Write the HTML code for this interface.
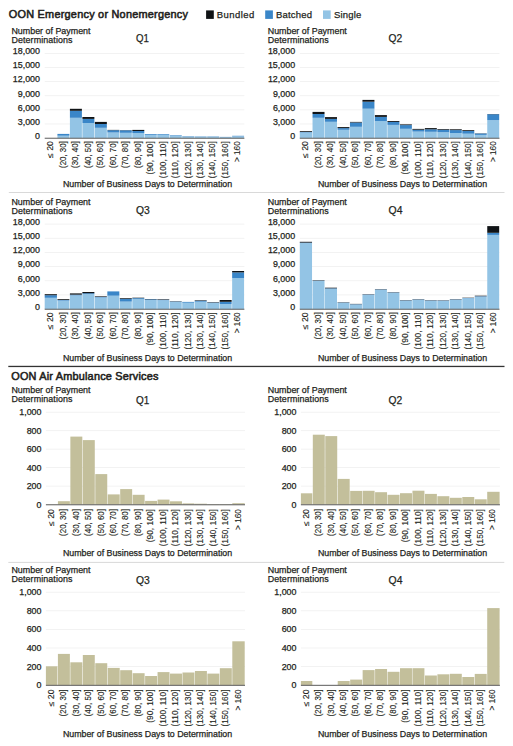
<!DOCTYPE html>
<html><head><meta charset="utf-8"><style>
html,body{margin:0;padding:0;background:#fff;}
body{width:513px;height:746px;overflow:hidden;}
svg{display:block;}
text{font-family:"Liberation Sans", sans-serif;stroke:#231f20;stroke-width:0.25px;}
</style></head><body>
<svg width="513" height="746" viewBox="0 0 513 746">
<rect x="0" y="0" width="513" height="746" fill="#fff"/>
<text x="8.8" y="18.3" font-size="10.9" text-anchor="start" font-weight="normal" fill="#231f20" textLength="179.2" lengthAdjust="spacing" style="stroke-width:0.55px">OON Emergency or Nonemergency</text>
<rect x="206.10" y="10.40" width="7.70" height="8.50" fill="#101316"/>
<text x="216.8" y="17.6" font-size="9.5" text-anchor="start" font-weight="normal" fill="#231f20" textLength="37.4" lengthAdjust="spacing">Bundled</text>
<rect x="265.20" y="10.40" width="7.70" height="8.50" fill="#3a86c8"/>
<text x="275.9" y="17.6" font-size="9.5" text-anchor="start" font-weight="normal" fill="#231f20" textLength="36.1" lengthAdjust="spacing">Batched</text>
<rect x="323.00" y="10.40" width="7.70" height="8.50" fill="#93c4e5"/>
<text x="334.1" y="17.6" font-size="9.5" text-anchor="start" font-weight="normal" fill="#231f20" textLength="27.2" lengthAdjust="spacing">Single</text>
<text x="11.4" y="33.6" font-size="8.9" text-anchor="start" font-weight="normal" fill="#231f20" textLength="79.1" lengthAdjust="spacing">Number of Payment</text>
<text x="11.4" y="42.8" font-size="8.9" text-anchor="start" font-weight="normal" fill="#231f20" textLength="61.1" lengthAdjust="spacing">Determinations</text>
<text x="135.9" y="41.6" font-size="11.0" text-anchor="start" font-weight="normal" fill="#231f20" textLength="12.9" lengthAdjust="spacingAndGlyphs">Q1</text>
<text x="40.0" y="138.89999999999998" font-size="8.9" text-anchor="end" font-weight="normal" fill="#231f20">0</text>
<rect x="44.70" y="123.58" width="199.68" height="0.8" fill="#efefef"/>
<text x="40.0" y="124.78333333333333" font-size="8.9" text-anchor="end" font-weight="normal" fill="#231f20">3,000</text>
<rect x="44.70" y="109.47" width="199.68" height="0.8" fill="#efefef"/>
<text x="40.0" y="110.66666666666666" font-size="8.9" text-anchor="end" font-weight="normal" fill="#231f20">6,000</text>
<rect x="44.70" y="95.35" width="199.68" height="0.8" fill="#efefef"/>
<text x="40.0" y="96.55" font-size="8.9" text-anchor="end" font-weight="normal" fill="#231f20">9,000</text>
<rect x="44.70" y="81.23" width="199.68" height="0.8" fill="#efefef"/>
<text x="40.0" y="82.43333333333332" font-size="8.9" text-anchor="end" font-weight="normal" fill="#231f20">12,000</text>
<rect x="44.70" y="67.12" width="199.68" height="0.8" fill="#efefef"/>
<text x="40.0" y="68.31666666666666" font-size="8.9" text-anchor="end" font-weight="normal" fill="#231f20">15,000</text>
<rect x="44.70" y="53.00" width="199.68" height="0.8" fill="#efefef"/>
<text x="40.0" y="54.2" font-size="8.9" text-anchor="end" font-weight="normal" fill="#231f20">18,000</text>
<rect x="57.43" y="135.70" width="11.98" height="2.50" fill="#93c4e5"/>
<rect x="57.43" y="133.90" width="11.98" height="1.80" fill="#3a86c8"/>
<rect x="69.91" y="117.80" width="11.98" height="20.40" fill="#93c4e5"/>
<rect x="69.91" y="110.80" width="11.98" height="7.00" fill="#3a86c8"/>
<rect x="69.91" y="108.80" width="11.98" height="2.00" fill="#101316"/>
<rect x="82.39" y="123.00" width="11.98" height="15.20" fill="#93c4e5"/>
<rect x="82.39" y="118.90" width="11.98" height="4.10" fill="#3a86c8"/>
<rect x="82.39" y="117.00" width="11.98" height="1.90" fill="#101316"/>
<rect x="94.87" y="127.80" width="11.98" height="10.40" fill="#93c4e5"/>
<rect x="94.87" y="124.00" width="11.98" height="3.80" fill="#3a86c8"/>
<rect x="94.87" y="121.90" width="11.98" height="2.10" fill="#101316"/>
<rect x="107.35" y="132.50" width="11.98" height="5.70" fill="#93c4e5"/>
<rect x="107.35" y="130.20" width="11.98" height="2.30" fill="#3a86c8"/>
<rect x="107.35" y="129.90" width="11.98" height="0.30" fill="#101316"/>
<rect x="119.83" y="132.80" width="11.98" height="5.40" fill="#93c4e5"/>
<rect x="119.83" y="130.30" width="11.98" height="2.50" fill="#3a86c8"/>
<rect x="119.83" y="130.10" width="11.98" height="0.20" fill="#101316"/>
<rect x="132.31" y="133.00" width="11.98" height="5.20" fill="#93c4e5"/>
<rect x="132.31" y="131.00" width="11.98" height="2.00" fill="#3a86c8"/>
<rect x="132.31" y="129.90" width="11.98" height="1.10" fill="#101316"/>
<rect x="144.79" y="134.90" width="11.98" height="3.30" fill="#93c4e5"/>
<rect x="144.79" y="134.10" width="11.98" height="0.80" fill="#3a86c8"/>
<rect x="157.27" y="134.80" width="11.98" height="3.40" fill="#93c4e5"/>
<rect x="157.27" y="134.10" width="11.98" height="0.70" fill="#3a86c8"/>
<rect x="169.75" y="135.60" width="11.98" height="2.60" fill="#93c4e5"/>
<rect x="169.75" y="135.10" width="11.98" height="0.50" fill="#3a86c8"/>
<rect x="182.23" y="136.40" width="11.98" height="1.80" fill="#93c4e5"/>
<rect x="182.23" y="136.10" width="11.98" height="0.30" fill="#3a86c8"/>
<rect x="194.71" y="136.70" width="11.98" height="1.50" fill="#93c4e5"/>
<rect x="194.71" y="136.40" width="11.98" height="0.30" fill="#3a86c8"/>
<rect x="207.19" y="136.70" width="11.98" height="1.50" fill="#93c4e5"/>
<rect x="207.19" y="136.40" width="11.98" height="0.30" fill="#3a86c8"/>
<rect x="219.67" y="137.20" width="11.98" height="1.00" fill="#93c4e5"/>
<rect x="219.67" y="136.90" width="11.98" height="0.30" fill="#3a86c8"/>
<rect x="232.15" y="136.30" width="11.93" height="1.90" fill="#93c4e5"/>
<rect x="232.15" y="135.80" width="11.93" height="0.50" fill="#3a86c8"/>
<rect x="44.70" y="137.70" width="199.68" height="1.1" fill="#6a6a6a"/>
<text transform="translate(53.24,141.20) rotate(-90)" font-size="8.3" text-anchor="end" fill="#231f20" style="stroke-width:0.12px" textLength="16.8" lengthAdjust="spacingAndGlyphs">≤ 20</text>
<text transform="translate(65.72,141.20) rotate(-90)" font-size="8.3" text-anchor="end" fill="#231f20" style="stroke-width:0.12px" textLength="26.8" lengthAdjust="spacingAndGlyphs">(20, 30]</text>
<text transform="translate(78.20,141.20) rotate(-90)" font-size="8.3" text-anchor="end" fill="#231f20" style="stroke-width:0.12px" textLength="26.8" lengthAdjust="spacingAndGlyphs">(30, 40]</text>
<text transform="translate(90.68,141.20) rotate(-90)" font-size="8.3" text-anchor="end" fill="#231f20" style="stroke-width:0.12px" textLength="26.8" lengthAdjust="spacingAndGlyphs">(40, 50]</text>
<text transform="translate(103.16,141.20) rotate(-90)" font-size="8.3" text-anchor="end" fill="#231f20" style="stroke-width:0.12px" textLength="26.8" lengthAdjust="spacingAndGlyphs">(50, 60]</text>
<text transform="translate(115.64,141.20) rotate(-90)" font-size="8.3" text-anchor="end" fill="#231f20" style="stroke-width:0.12px" textLength="26.8" lengthAdjust="spacingAndGlyphs">(60, 70]</text>
<text transform="translate(128.12,141.20) rotate(-90)" font-size="8.3" text-anchor="end" fill="#231f20" style="stroke-width:0.12px" textLength="26.8" lengthAdjust="spacingAndGlyphs">(70, 80]</text>
<text transform="translate(140.60,141.20) rotate(-90)" font-size="8.3" text-anchor="end" fill="#231f20" style="stroke-width:0.12px" textLength="26.8" lengthAdjust="spacingAndGlyphs">(80, 90]</text>
<text transform="translate(153.08,141.20) rotate(-90)" font-size="8.3" text-anchor="end" fill="#231f20" style="stroke-width:0.12px" textLength="33.2" lengthAdjust="spacingAndGlyphs">(90, 100]</text>
<text transform="translate(165.56,141.20) rotate(-90)" font-size="8.3" text-anchor="end" fill="#231f20" style="stroke-width:0.12px" textLength="37.1" lengthAdjust="spacingAndGlyphs">(100, 110]</text>
<text transform="translate(178.04,141.20) rotate(-90)" font-size="8.3" text-anchor="end" fill="#231f20" style="stroke-width:0.12px" textLength="37.1" lengthAdjust="spacingAndGlyphs">(110, 120]</text>
<text transform="translate(190.52,141.20) rotate(-90)" font-size="8.3" text-anchor="end" fill="#231f20" style="stroke-width:0.12px" textLength="37.1" lengthAdjust="spacingAndGlyphs">(120, 130]</text>
<text transform="translate(203.00,141.20) rotate(-90)" font-size="8.3" text-anchor="end" fill="#231f20" style="stroke-width:0.12px" textLength="37.1" lengthAdjust="spacingAndGlyphs">(130, 140]</text>
<text transform="translate(215.48,141.20) rotate(-90)" font-size="8.3" text-anchor="end" fill="#231f20" style="stroke-width:0.12px" textLength="37.1" lengthAdjust="spacingAndGlyphs">(140, 150]</text>
<text transform="translate(227.96,141.20) rotate(-90)" font-size="8.3" text-anchor="end" fill="#231f20" style="stroke-width:0.12px" textLength="37.1" lengthAdjust="spacingAndGlyphs">(150, 160]</text>
<text transform="translate(240.44,141.20) rotate(-90)" font-size="8.3" text-anchor="end" fill="#231f20" style="stroke-width:0.12px" textLength="20.9" lengthAdjust="spacingAndGlyphs">> 160</text>
<text x="62.9" y="186.8" font-size="8.9" text-anchor="start" font-weight="normal" fill="#231f20" textLength="169.3" lengthAdjust="spacingAndGlyphs">Number of Business Days to Determination</text>
<text x="267.7" y="33.6" font-size="8.9" text-anchor="start" font-weight="normal" fill="#231f20" textLength="79.1" lengthAdjust="spacing">Number of Payment</text>
<text x="267.7" y="42.8" font-size="8.9" text-anchor="start" font-weight="normal" fill="#231f20" textLength="61.1" lengthAdjust="spacing">Determinations</text>
<text x="388.6" y="41.6" font-size="11.0" text-anchor="start" font-weight="normal" fill="#231f20" textLength="13.7" lengthAdjust="spacingAndGlyphs">Q2</text>
<text x="295.1" y="138.89999999999998" font-size="8.9" text-anchor="end" font-weight="normal" fill="#231f20">0</text>
<rect x="299.80" y="123.58" width="199.68" height="0.8" fill="#efefef"/>
<text x="295.1" y="124.78333333333333" font-size="8.9" text-anchor="end" font-weight="normal" fill="#231f20">3,000</text>
<rect x="299.80" y="109.47" width="199.68" height="0.8" fill="#efefef"/>
<text x="295.1" y="110.66666666666666" font-size="8.9" text-anchor="end" font-weight="normal" fill="#231f20">6,000</text>
<rect x="299.80" y="95.35" width="199.68" height="0.8" fill="#efefef"/>
<text x="295.1" y="96.55" font-size="8.9" text-anchor="end" font-weight="normal" fill="#231f20">9,000</text>
<rect x="299.80" y="81.23" width="199.68" height="0.8" fill="#efefef"/>
<text x="295.1" y="82.43333333333332" font-size="8.9" text-anchor="end" font-weight="normal" fill="#231f20">12,000</text>
<rect x="299.80" y="67.12" width="199.68" height="0.8" fill="#efefef"/>
<text x="295.1" y="68.31666666666666" font-size="8.9" text-anchor="end" font-weight="normal" fill="#231f20">15,000</text>
<rect x="299.80" y="53.00" width="199.68" height="0.8" fill="#efefef"/>
<text x="295.1" y="54.2" font-size="8.9" text-anchor="end" font-weight="normal" fill="#231f20">18,000</text>
<rect x="299.80" y="132.50" width="12.23" height="5.70" fill="#93c4e5"/>
<rect x="299.80" y="132.00" width="12.23" height="0.50" fill="#3a86c8"/>
<rect x="299.80" y="131.20" width="12.23" height="0.80" fill="#101316"/>
<rect x="312.53" y="117.80" width="11.98" height="20.40" fill="#93c4e5"/>
<rect x="312.53" y="114.00" width="11.98" height="3.80" fill="#3a86c8"/>
<rect x="312.53" y="111.90" width="11.98" height="2.10" fill="#101316"/>
<rect x="325.01" y="121.80" width="11.98" height="16.40" fill="#93c4e5"/>
<rect x="325.01" y="118.90" width="11.98" height="2.90" fill="#3a86c8"/>
<rect x="325.01" y="117.10" width="11.98" height="1.80" fill="#101316"/>
<rect x="337.49" y="129.80" width="11.98" height="8.40" fill="#93c4e5"/>
<rect x="337.49" y="128.10" width="11.98" height="1.70" fill="#3a86c8"/>
<rect x="337.49" y="127.10" width="11.98" height="1.00" fill="#101316"/>
<rect x="349.97" y="126.80" width="11.98" height="11.40" fill="#93c4e5"/>
<rect x="349.97" y="122.50" width="11.98" height="4.30" fill="#3a86c8"/>
<rect x="349.97" y="121.90" width="11.98" height="0.60" fill="#101316"/>
<rect x="362.45" y="108.70" width="11.98" height="29.50" fill="#93c4e5"/>
<rect x="362.45" y="101.70" width="11.98" height="7.00" fill="#3a86c8"/>
<rect x="362.45" y="99.90" width="11.98" height="1.80" fill="#101316"/>
<rect x="374.93" y="121.00" width="11.98" height="17.20" fill="#93c4e5"/>
<rect x="374.93" y="116.90" width="11.98" height="4.10" fill="#3a86c8"/>
<rect x="374.93" y="115.10" width="11.98" height="1.80" fill="#101316"/>
<rect x="387.41" y="124.90" width="11.98" height="13.30" fill="#93c4e5"/>
<rect x="387.41" y="121.90" width="11.98" height="3.00" fill="#3a86c8"/>
<rect x="387.41" y="121.00" width="11.98" height="0.90" fill="#101316"/>
<rect x="399.89" y="128.80" width="11.98" height="9.40" fill="#93c4e5"/>
<rect x="399.89" y="125.10" width="11.98" height="3.70" fill="#3a86c8"/>
<rect x="399.89" y="124.40" width="11.98" height="0.70" fill="#101316"/>
<rect x="412.37" y="131.60" width="11.98" height="6.60" fill="#93c4e5"/>
<rect x="412.37" y="129.70" width="11.98" height="1.90" fill="#3a86c8"/>
<rect x="412.37" y="128.90" width="11.98" height="0.80" fill="#101316"/>
<rect x="424.85" y="131.80" width="11.98" height="6.40" fill="#93c4e5"/>
<rect x="424.85" y="129.30" width="11.98" height="2.50" fill="#3a86c8"/>
<rect x="424.85" y="128.10" width="11.98" height="1.20" fill="#101316"/>
<rect x="437.33" y="132.20" width="11.98" height="6.00" fill="#93c4e5"/>
<rect x="437.33" y="129.70" width="11.98" height="2.50" fill="#3a86c8"/>
<rect x="437.33" y="129.00" width="11.98" height="0.70" fill="#101316"/>
<rect x="449.81" y="133.00" width="11.98" height="5.20" fill="#93c4e5"/>
<rect x="449.81" y="130.10" width="11.98" height="2.90" fill="#3a86c8"/>
<rect x="449.81" y="129.30" width="11.98" height="0.80" fill="#101316"/>
<rect x="462.29" y="133.70" width="11.98" height="4.50" fill="#93c4e5"/>
<rect x="462.29" y="131.00" width="11.98" height="2.70" fill="#3a86c8"/>
<rect x="462.29" y="130.20" width="11.98" height="0.80" fill="#101316"/>
<rect x="474.77" y="134.90" width="11.98" height="3.30" fill="#93c4e5"/>
<rect x="474.77" y="133.50" width="11.98" height="1.40" fill="#3a86c8"/>
<rect x="474.77" y="133.30" width="11.98" height="0.20" fill="#101316"/>
<rect x="487.25" y="120.10" width="11.93" height="18.10" fill="#93c4e5"/>
<rect x="487.25" y="114.20" width="11.93" height="5.90" fill="#3a86c8"/>
<rect x="487.25" y="114.00" width="11.93" height="0.20" fill="#101316"/>
<rect x="299.80" y="137.70" width="199.68" height="1.1" fill="#6a6a6a"/>
<text transform="translate(308.34,141.20) rotate(-90)" font-size="8.3" text-anchor="end" fill="#231f20" style="stroke-width:0.12px" textLength="16.8" lengthAdjust="spacingAndGlyphs">≤ 20</text>
<text transform="translate(320.82,141.20) rotate(-90)" font-size="8.3" text-anchor="end" fill="#231f20" style="stroke-width:0.12px" textLength="26.8" lengthAdjust="spacingAndGlyphs">(20, 30]</text>
<text transform="translate(333.30,141.20) rotate(-90)" font-size="8.3" text-anchor="end" fill="#231f20" style="stroke-width:0.12px" textLength="26.8" lengthAdjust="spacingAndGlyphs">(30, 40]</text>
<text transform="translate(345.78,141.20) rotate(-90)" font-size="8.3" text-anchor="end" fill="#231f20" style="stroke-width:0.12px" textLength="26.8" lengthAdjust="spacingAndGlyphs">(40, 50]</text>
<text transform="translate(358.26,141.20) rotate(-90)" font-size="8.3" text-anchor="end" fill="#231f20" style="stroke-width:0.12px" textLength="26.8" lengthAdjust="spacingAndGlyphs">(50, 60]</text>
<text transform="translate(370.74,141.20) rotate(-90)" font-size="8.3" text-anchor="end" fill="#231f20" style="stroke-width:0.12px" textLength="26.8" lengthAdjust="spacingAndGlyphs">(60, 70]</text>
<text transform="translate(383.22,141.20) rotate(-90)" font-size="8.3" text-anchor="end" fill="#231f20" style="stroke-width:0.12px" textLength="26.8" lengthAdjust="spacingAndGlyphs">(70, 80]</text>
<text transform="translate(395.70,141.20) rotate(-90)" font-size="8.3" text-anchor="end" fill="#231f20" style="stroke-width:0.12px" textLength="26.8" lengthAdjust="spacingAndGlyphs">(80, 90]</text>
<text transform="translate(408.18,141.20) rotate(-90)" font-size="8.3" text-anchor="end" fill="#231f20" style="stroke-width:0.12px" textLength="33.2" lengthAdjust="spacingAndGlyphs">(90, 100]</text>
<text transform="translate(420.66,141.20) rotate(-90)" font-size="8.3" text-anchor="end" fill="#231f20" style="stroke-width:0.12px" textLength="37.1" lengthAdjust="spacingAndGlyphs">(100, 110]</text>
<text transform="translate(433.14,141.20) rotate(-90)" font-size="8.3" text-anchor="end" fill="#231f20" style="stroke-width:0.12px" textLength="37.1" lengthAdjust="spacingAndGlyphs">(110, 120]</text>
<text transform="translate(445.62,141.20) rotate(-90)" font-size="8.3" text-anchor="end" fill="#231f20" style="stroke-width:0.12px" textLength="37.1" lengthAdjust="spacingAndGlyphs">(120, 130]</text>
<text transform="translate(458.10,141.20) rotate(-90)" font-size="8.3" text-anchor="end" fill="#231f20" style="stroke-width:0.12px" textLength="37.1" lengthAdjust="spacingAndGlyphs">(130, 140]</text>
<text transform="translate(470.58,141.20) rotate(-90)" font-size="8.3" text-anchor="end" fill="#231f20" style="stroke-width:0.12px" textLength="37.1" lengthAdjust="spacingAndGlyphs">(140, 150]</text>
<text transform="translate(483.06,141.20) rotate(-90)" font-size="8.3" text-anchor="end" fill="#231f20" style="stroke-width:0.12px" textLength="37.1" lengthAdjust="spacingAndGlyphs">(150, 160]</text>
<text transform="translate(495.54,141.20) rotate(-90)" font-size="8.3" text-anchor="end" fill="#231f20" style="stroke-width:0.12px" textLength="20.9" lengthAdjust="spacingAndGlyphs">> 160</text>
<text x="317.9" y="186.8" font-size="8.9" text-anchor="start" font-weight="normal" fill="#231f20" textLength="169.3" lengthAdjust="spacingAndGlyphs">Number of Business Days to Determination</text>
<rect x="8.8" y="192.0" width="495.7" height="1.0" fill="#d9d9d9"/>
<text x="11.4" y="204.9" font-size="8.9" text-anchor="start" font-weight="normal" fill="#231f20" textLength="79.1" lengthAdjust="spacing">Number of Payment</text>
<text x="11.4" y="214.1" font-size="8.9" text-anchor="start" font-weight="normal" fill="#231f20" textLength="61.1" lengthAdjust="spacing">Determinations</text>
<text x="135.9" y="213.7" font-size="11.0" text-anchor="start" font-weight="normal" fill="#231f20" textLength="13.8" lengthAdjust="spacingAndGlyphs">Q3</text>
<text x="40.0" y="309.9" font-size="8.9" text-anchor="end" font-weight="normal" fill="#231f20">0</text>
<rect x="44.70" y="294.53" width="199.68" height="0.8" fill="#efefef"/>
<text x="40.0" y="295.7333333333333" font-size="8.9" text-anchor="end" font-weight="normal" fill="#231f20">3,000</text>
<rect x="44.70" y="280.37" width="199.68" height="0.8" fill="#efefef"/>
<text x="40.0" y="281.56666666666666" font-size="8.9" text-anchor="end" font-weight="normal" fill="#231f20">6,000</text>
<rect x="44.70" y="266.20" width="199.68" height="0.8" fill="#efefef"/>
<text x="40.0" y="267.4" font-size="8.9" text-anchor="end" font-weight="normal" fill="#231f20">9,000</text>
<rect x="44.70" y="252.03" width="199.68" height="0.8" fill="#efefef"/>
<text x="40.0" y="253.23333333333332" font-size="8.9" text-anchor="end" font-weight="normal" fill="#231f20">12,000</text>
<rect x="44.70" y="237.87" width="199.68" height="0.8" fill="#efefef"/>
<text x="40.0" y="239.06666666666666" font-size="8.9" text-anchor="end" font-weight="normal" fill="#231f20">15,000</text>
<rect x="44.70" y="223.70" width="199.68" height="0.8" fill="#efefef"/>
<text x="40.0" y="224.89999999999998" font-size="8.9" text-anchor="end" font-weight="normal" fill="#231f20">18,000</text>
<rect x="44.70" y="297.80" width="12.23" height="11.40" fill="#93c4e5"/>
<rect x="44.70" y="295.20" width="12.23" height="2.60" fill="#3a86c8"/>
<rect x="44.70" y="294.20" width="12.23" height="1.00" fill="#101316"/>
<rect x="57.43" y="300.60" width="11.98" height="8.60" fill="#93c4e5"/>
<rect x="57.43" y="300.00" width="11.98" height="0.60" fill="#3a86c8"/>
<rect x="57.43" y="299.20" width="11.98" height="0.80" fill="#101316"/>
<rect x="69.91" y="295.40" width="11.98" height="13.80" fill="#93c4e5"/>
<rect x="69.91" y="294.60" width="11.98" height="0.80" fill="#3a86c8"/>
<rect x="69.91" y="293.40" width="11.98" height="1.20" fill="#101316"/>
<rect x="82.39" y="294.00" width="11.98" height="15.20" fill="#93c4e5"/>
<rect x="82.39" y="293.20" width="11.98" height="0.80" fill="#3a86c8"/>
<rect x="82.39" y="292.00" width="11.98" height="1.20" fill="#101316"/>
<rect x="94.87" y="297.50" width="11.98" height="11.70" fill="#93c4e5"/>
<rect x="94.87" y="296.90" width="11.98" height="0.60" fill="#3a86c8"/>
<rect x="94.87" y="296.30" width="11.98" height="0.60" fill="#101316"/>
<rect x="107.35" y="295.70" width="11.98" height="13.50" fill="#93c4e5"/>
<rect x="107.35" y="291.40" width="11.98" height="4.30" fill="#3a86c8"/>
<rect x="119.83" y="301.60" width="11.98" height="7.60" fill="#93c4e5"/>
<rect x="119.83" y="298.80" width="11.98" height="2.80" fill="#3a86c8"/>
<rect x="119.83" y="298.10" width="11.98" height="0.70" fill="#101316"/>
<rect x="132.31" y="298.90" width="11.98" height="10.30" fill="#93c4e5"/>
<rect x="132.31" y="298.10" width="11.98" height="0.80" fill="#3a86c8"/>
<rect x="132.31" y="297.70" width="11.98" height="0.40" fill="#101316"/>
<rect x="144.79" y="300.00" width="11.98" height="9.20" fill="#93c4e5"/>
<rect x="144.79" y="299.30" width="11.98" height="0.70" fill="#3a86c8"/>
<rect x="144.79" y="299.00" width="11.98" height="0.30" fill="#101316"/>
<rect x="157.27" y="300.20" width="11.98" height="9.00" fill="#93c4e5"/>
<rect x="157.27" y="299.70" width="11.98" height="0.50" fill="#3a86c8"/>
<rect x="157.27" y="299.20" width="11.98" height="0.50" fill="#101316"/>
<rect x="169.75" y="302.00" width="11.98" height="7.20" fill="#93c4e5"/>
<rect x="169.75" y="301.60" width="11.98" height="0.40" fill="#3a86c8"/>
<rect x="169.75" y="301.30" width="11.98" height="0.30" fill="#101316"/>
<rect x="182.23" y="302.70" width="11.98" height="6.50" fill="#93c4e5"/>
<rect x="182.23" y="301.90" width="11.98" height="0.80" fill="#3a86c8"/>
<rect x="194.71" y="301.70" width="11.98" height="7.50" fill="#93c4e5"/>
<rect x="194.71" y="300.70" width="11.98" height="1.00" fill="#3a86c8"/>
<rect x="194.71" y="300.20" width="11.98" height="0.50" fill="#101316"/>
<rect x="207.19" y="303.00" width="11.98" height="6.20" fill="#93c4e5"/>
<rect x="207.19" y="302.60" width="11.98" height="0.40" fill="#3a86c8"/>
<rect x="207.19" y="302.20" width="11.98" height="0.40" fill="#101316"/>
<rect x="219.67" y="304.00" width="11.98" height="5.20" fill="#93c4e5"/>
<rect x="219.67" y="301.80" width="11.98" height="2.20" fill="#3a86c8"/>
<rect x="219.67" y="300.00" width="11.98" height="1.80" fill="#101316"/>
<rect x="232.15" y="278.00" width="11.93" height="31.20" fill="#93c4e5"/>
<rect x="232.15" y="272.40" width="11.93" height="5.60" fill="#3a86c8"/>
<rect x="232.15" y="271.00" width="11.93" height="1.40" fill="#101316"/>
<rect x="44.70" y="308.70" width="199.68" height="1.1" fill="#6a6a6a"/>
<text transform="translate(53.24,312.40) rotate(-90)" font-size="8.3" text-anchor="end" fill="#231f20" style="stroke-width:0.12px" textLength="16.8" lengthAdjust="spacingAndGlyphs">≤ 20</text>
<text transform="translate(65.72,312.40) rotate(-90)" font-size="8.3" text-anchor="end" fill="#231f20" style="stroke-width:0.12px" textLength="26.8" lengthAdjust="spacingAndGlyphs">(20, 30]</text>
<text transform="translate(78.20,312.40) rotate(-90)" font-size="8.3" text-anchor="end" fill="#231f20" style="stroke-width:0.12px" textLength="26.8" lengthAdjust="spacingAndGlyphs">(30, 40]</text>
<text transform="translate(90.68,312.40) rotate(-90)" font-size="8.3" text-anchor="end" fill="#231f20" style="stroke-width:0.12px" textLength="26.8" lengthAdjust="spacingAndGlyphs">(40, 50]</text>
<text transform="translate(103.16,312.40) rotate(-90)" font-size="8.3" text-anchor="end" fill="#231f20" style="stroke-width:0.12px" textLength="26.8" lengthAdjust="spacingAndGlyphs">(50, 60]</text>
<text transform="translate(115.64,312.40) rotate(-90)" font-size="8.3" text-anchor="end" fill="#231f20" style="stroke-width:0.12px" textLength="26.8" lengthAdjust="spacingAndGlyphs">(60, 70]</text>
<text transform="translate(128.12,312.40) rotate(-90)" font-size="8.3" text-anchor="end" fill="#231f20" style="stroke-width:0.12px" textLength="26.8" lengthAdjust="spacingAndGlyphs">(70, 80]</text>
<text transform="translate(140.60,312.40) rotate(-90)" font-size="8.3" text-anchor="end" fill="#231f20" style="stroke-width:0.12px" textLength="26.8" lengthAdjust="spacingAndGlyphs">(80, 90]</text>
<text transform="translate(153.08,312.40) rotate(-90)" font-size="8.3" text-anchor="end" fill="#231f20" style="stroke-width:0.12px" textLength="33.2" lengthAdjust="spacingAndGlyphs">(90, 100]</text>
<text transform="translate(165.56,312.40) rotate(-90)" font-size="8.3" text-anchor="end" fill="#231f20" style="stroke-width:0.12px" textLength="37.1" lengthAdjust="spacingAndGlyphs">(100, 110]</text>
<text transform="translate(178.04,312.40) rotate(-90)" font-size="8.3" text-anchor="end" fill="#231f20" style="stroke-width:0.12px" textLength="37.1" lengthAdjust="spacingAndGlyphs">(110, 120]</text>
<text transform="translate(190.52,312.40) rotate(-90)" font-size="8.3" text-anchor="end" fill="#231f20" style="stroke-width:0.12px" textLength="37.1" lengthAdjust="spacingAndGlyphs">(120, 130]</text>
<text transform="translate(203.00,312.40) rotate(-90)" font-size="8.3" text-anchor="end" fill="#231f20" style="stroke-width:0.12px" textLength="37.1" lengthAdjust="spacingAndGlyphs">(130, 140]</text>
<text transform="translate(215.48,312.40) rotate(-90)" font-size="8.3" text-anchor="end" fill="#231f20" style="stroke-width:0.12px" textLength="37.1" lengthAdjust="spacingAndGlyphs">(140, 150]</text>
<text transform="translate(227.96,312.40) rotate(-90)" font-size="8.3" text-anchor="end" fill="#231f20" style="stroke-width:0.12px" textLength="37.1" lengthAdjust="spacingAndGlyphs">(150, 160]</text>
<text transform="translate(240.44,312.40) rotate(-90)" font-size="8.3" text-anchor="end" fill="#231f20" style="stroke-width:0.12px" textLength="20.9" lengthAdjust="spacingAndGlyphs">> 160</text>
<text x="62.9" y="360.6" font-size="8.9" text-anchor="start" font-weight="normal" fill="#231f20" textLength="169.3" lengthAdjust="spacingAndGlyphs">Number of Business Days to Determination</text>
<text x="267.7" y="204.9" font-size="8.9" text-anchor="start" font-weight="normal" fill="#231f20" textLength="79.1" lengthAdjust="spacing">Number of Payment</text>
<text x="267.7" y="214.1" font-size="8.9" text-anchor="start" font-weight="normal" fill="#231f20" textLength="61.1" lengthAdjust="spacing">Determinations</text>
<text x="388.6" y="213.7" font-size="11.0" text-anchor="start" font-weight="normal" fill="#231f20" textLength="13.9" lengthAdjust="spacingAndGlyphs">Q4</text>
<text x="295.1" y="309.9" font-size="8.9" text-anchor="end" font-weight="normal" fill="#231f20">0</text>
<rect x="299.80" y="294.53" width="199.68" height="0.8" fill="#efefef"/>
<text x="295.1" y="295.7333333333333" font-size="8.9" text-anchor="end" font-weight="normal" fill="#231f20">3,000</text>
<rect x="299.80" y="280.37" width="199.68" height="0.8" fill="#efefef"/>
<text x="295.1" y="281.56666666666666" font-size="8.9" text-anchor="end" font-weight="normal" fill="#231f20">6,000</text>
<rect x="299.80" y="266.20" width="199.68" height="0.8" fill="#efefef"/>
<text x="295.1" y="267.4" font-size="8.9" text-anchor="end" font-weight="normal" fill="#231f20">9,000</text>
<rect x="299.80" y="252.03" width="199.68" height="0.8" fill="#efefef"/>
<text x="295.1" y="253.23333333333332" font-size="8.9" text-anchor="end" font-weight="normal" fill="#231f20">12,000</text>
<rect x="299.80" y="237.87" width="199.68" height="0.8" fill="#efefef"/>
<text x="295.1" y="239.06666666666666" font-size="8.9" text-anchor="end" font-weight="normal" fill="#231f20">15,000</text>
<rect x="299.80" y="223.70" width="199.68" height="0.8" fill="#efefef"/>
<text x="295.1" y="224.89999999999998" font-size="8.9" text-anchor="end" font-weight="normal" fill="#231f20">18,000</text>
<rect x="299.80" y="243.00" width="12.23" height="66.20" fill="#93c4e5"/>
<rect x="299.80" y="242.60" width="12.23" height="0.40" fill="#3a86c8"/>
<rect x="299.80" y="241.80" width="12.23" height="0.80" fill="#101316"/>
<rect x="312.53" y="280.80" width="11.98" height="28.40" fill="#93c4e5"/>
<rect x="312.53" y="280.60" width="11.98" height="0.20" fill="#3a86c8"/>
<rect x="312.53" y="280.20" width="11.98" height="0.40" fill="#101316"/>
<rect x="325.01" y="288.80" width="11.98" height="20.40" fill="#93c4e5"/>
<rect x="325.01" y="288.30" width="11.98" height="0.50" fill="#3a86c8"/>
<rect x="325.01" y="287.70" width="11.98" height="0.60" fill="#101316"/>
<rect x="337.49" y="302.90" width="11.98" height="6.30" fill="#93c4e5"/>
<rect x="337.49" y="302.60" width="11.98" height="0.30" fill="#3a86c8"/>
<rect x="337.49" y="302.30" width="11.98" height="0.30" fill="#101316"/>
<rect x="349.97" y="304.50" width="11.98" height="4.70" fill="#93c4e5"/>
<rect x="349.97" y="304.20" width="11.98" height="0.30" fill="#3a86c8"/>
<rect x="349.97" y="303.90" width="11.98" height="0.30" fill="#101316"/>
<rect x="362.45" y="294.90" width="11.98" height="14.30" fill="#93c4e5"/>
<rect x="362.45" y="294.60" width="11.98" height="0.30" fill="#3a86c8"/>
<rect x="362.45" y="294.30" width="11.98" height="0.30" fill="#101316"/>
<rect x="374.93" y="289.70" width="11.98" height="19.50" fill="#93c4e5"/>
<rect x="374.93" y="289.40" width="11.98" height="0.30" fill="#3a86c8"/>
<rect x="374.93" y="289.10" width="11.98" height="0.30" fill="#101316"/>
<rect x="387.41" y="292.80" width="11.98" height="16.40" fill="#93c4e5"/>
<rect x="387.41" y="292.50" width="11.98" height="0.30" fill="#3a86c8"/>
<rect x="387.41" y="292.20" width="11.98" height="0.30" fill="#101316"/>
<rect x="399.89" y="300.70" width="11.98" height="8.50" fill="#93c4e5"/>
<rect x="399.89" y="300.40" width="11.98" height="0.30" fill="#3a86c8"/>
<rect x="399.89" y="300.10" width="11.98" height="0.30" fill="#101316"/>
<rect x="412.37" y="299.80" width="11.98" height="9.40" fill="#93c4e5"/>
<rect x="412.37" y="299.50" width="11.98" height="0.30" fill="#3a86c8"/>
<rect x="412.37" y="299.20" width="11.98" height="0.30" fill="#101316"/>
<rect x="424.85" y="300.80" width="11.98" height="8.40" fill="#93c4e5"/>
<rect x="424.85" y="300.50" width="11.98" height="0.30" fill="#3a86c8"/>
<rect x="424.85" y="300.20" width="11.98" height="0.30" fill="#101316"/>
<rect x="437.33" y="301.00" width="11.98" height="8.20" fill="#93c4e5"/>
<rect x="437.33" y="300.70" width="11.98" height="0.30" fill="#3a86c8"/>
<rect x="437.33" y="300.40" width="11.98" height="0.30" fill="#101316"/>
<rect x="449.81" y="299.80" width="11.98" height="9.40" fill="#93c4e5"/>
<rect x="449.81" y="299.50" width="11.98" height="0.30" fill="#3a86c8"/>
<rect x="449.81" y="299.20" width="11.98" height="0.30" fill="#101316"/>
<rect x="462.29" y="298.30" width="11.98" height="10.90" fill="#93c4e5"/>
<rect x="462.29" y="298.00" width="11.98" height="0.30" fill="#3a86c8"/>
<rect x="462.29" y="297.70" width="11.98" height="0.30" fill="#101316"/>
<rect x="474.77" y="296.60" width="11.98" height="12.60" fill="#93c4e5"/>
<rect x="474.77" y="296.20" width="11.98" height="0.40" fill="#3a86c8"/>
<rect x="474.77" y="295.70" width="11.98" height="0.50" fill="#101316"/>
<rect x="487.25" y="234.90" width="11.93" height="74.30" fill="#93c4e5"/>
<rect x="487.25" y="232.80" width="11.93" height="2.10" fill="#3a86c8"/>
<rect x="487.25" y="226.10" width="11.93" height="6.70" fill="#101316"/>
<rect x="299.80" y="308.70" width="199.68" height="1.1" fill="#6a6a6a"/>
<text transform="translate(308.34,312.40) rotate(-90)" font-size="8.3" text-anchor="end" fill="#231f20" style="stroke-width:0.12px" textLength="16.8" lengthAdjust="spacingAndGlyphs">≤ 20</text>
<text transform="translate(320.82,312.40) rotate(-90)" font-size="8.3" text-anchor="end" fill="#231f20" style="stroke-width:0.12px" textLength="26.8" lengthAdjust="spacingAndGlyphs">(20, 30]</text>
<text transform="translate(333.30,312.40) rotate(-90)" font-size="8.3" text-anchor="end" fill="#231f20" style="stroke-width:0.12px" textLength="26.8" lengthAdjust="spacingAndGlyphs">(30, 40]</text>
<text transform="translate(345.78,312.40) rotate(-90)" font-size="8.3" text-anchor="end" fill="#231f20" style="stroke-width:0.12px" textLength="26.8" lengthAdjust="spacingAndGlyphs">(40, 50]</text>
<text transform="translate(358.26,312.40) rotate(-90)" font-size="8.3" text-anchor="end" fill="#231f20" style="stroke-width:0.12px" textLength="26.8" lengthAdjust="spacingAndGlyphs">(50, 60]</text>
<text transform="translate(370.74,312.40) rotate(-90)" font-size="8.3" text-anchor="end" fill="#231f20" style="stroke-width:0.12px" textLength="26.8" lengthAdjust="spacingAndGlyphs">(60, 70]</text>
<text transform="translate(383.22,312.40) rotate(-90)" font-size="8.3" text-anchor="end" fill="#231f20" style="stroke-width:0.12px" textLength="26.8" lengthAdjust="spacingAndGlyphs">(70, 80]</text>
<text transform="translate(395.70,312.40) rotate(-90)" font-size="8.3" text-anchor="end" fill="#231f20" style="stroke-width:0.12px" textLength="26.8" lengthAdjust="spacingAndGlyphs">(80, 90]</text>
<text transform="translate(408.18,312.40) rotate(-90)" font-size="8.3" text-anchor="end" fill="#231f20" style="stroke-width:0.12px" textLength="33.2" lengthAdjust="spacingAndGlyphs">(90, 100]</text>
<text transform="translate(420.66,312.40) rotate(-90)" font-size="8.3" text-anchor="end" fill="#231f20" style="stroke-width:0.12px" textLength="37.1" lengthAdjust="spacingAndGlyphs">(100, 110]</text>
<text transform="translate(433.14,312.40) rotate(-90)" font-size="8.3" text-anchor="end" fill="#231f20" style="stroke-width:0.12px" textLength="37.1" lengthAdjust="spacingAndGlyphs">(110, 120]</text>
<text transform="translate(445.62,312.40) rotate(-90)" font-size="8.3" text-anchor="end" fill="#231f20" style="stroke-width:0.12px" textLength="37.1" lengthAdjust="spacingAndGlyphs">(120, 130]</text>
<text transform="translate(458.10,312.40) rotate(-90)" font-size="8.3" text-anchor="end" fill="#231f20" style="stroke-width:0.12px" textLength="37.1" lengthAdjust="spacingAndGlyphs">(130, 140]</text>
<text transform="translate(470.58,312.40) rotate(-90)" font-size="8.3" text-anchor="end" fill="#231f20" style="stroke-width:0.12px" textLength="37.1" lengthAdjust="spacingAndGlyphs">(140, 150]</text>
<text transform="translate(483.06,312.40) rotate(-90)" font-size="8.3" text-anchor="end" fill="#231f20" style="stroke-width:0.12px" textLength="37.1" lengthAdjust="spacingAndGlyphs">(150, 160]</text>
<text transform="translate(495.54,312.40) rotate(-90)" font-size="8.3" text-anchor="end" fill="#231f20" style="stroke-width:0.12px" textLength="20.9" lengthAdjust="spacingAndGlyphs">> 160</text>
<text x="317.9" y="360.6" font-size="8.9" text-anchor="start" font-weight="normal" fill="#231f20" textLength="169.3" lengthAdjust="spacingAndGlyphs">Number of Business Days to Determination</text>
<rect x="8.3" y="365.8" width="496.2" height="1.3" fill="#333"/>
<text x="11.2" y="379.9" font-size="10.9" text-anchor="start" font-weight="normal" fill="#231f20" textLength="147.2" lengthAdjust="spacing" style="stroke-width:0.55px">OON Air Ambulance Services</text>
<text x="11.4" y="392.9" font-size="8.9" text-anchor="start" font-weight="normal" fill="#231f20" textLength="79.1" lengthAdjust="spacing">Number of Payment</text>
<text x="11.4" y="402.09999999999997" font-size="8.9" text-anchor="start" font-weight="normal" fill="#231f20" textLength="61.1" lengthAdjust="spacing">Determinations</text>
<text x="135.9" y="404.4" font-size="11.0" text-anchor="start" font-weight="normal" fill="#231f20" textLength="13.3" lengthAdjust="spacingAndGlyphs">Q1</text>
<text x="41.5" y="507.59999999999997" font-size="8.9" text-anchor="end" font-weight="normal" fill="#231f20">0</text>
<rect x="45.90" y="485.72" width="199.10" height="0.8" fill="#efefef"/>
<text x="41.5" y="489.11999999999995" font-size="8.9" text-anchor="end" font-weight="normal" fill="#231f20">200</text>
<rect x="45.90" y="467.24" width="199.10" height="0.8" fill="#efefef"/>
<text x="41.5" y="470.64" font-size="8.9" text-anchor="end" font-weight="normal" fill="#231f20">400</text>
<rect x="45.90" y="448.76" width="199.10" height="0.8" fill="#efefef"/>
<text x="41.5" y="452.15999999999997" font-size="8.9" text-anchor="end" font-weight="normal" fill="#231f20">600</text>
<rect x="45.90" y="430.28" width="199.10" height="0.8" fill="#efefef"/>
<text x="41.5" y="433.67999999999995" font-size="8.9" text-anchor="end" font-weight="normal" fill="#231f20">800</text>
<rect x="45.90" y="411.80" width="199.10" height="0.8" fill="#efefef"/>
<text x="41.5" y="415.2" font-size="8.9" text-anchor="end" font-weight="normal" fill="#231f20">1,000</text>
<rect x="45.90" y="504.50" width="11.51" height="0.20" fill="#c3bf9b"/>
<rect x="57.91" y="501.20" width="11.96" height="3.50" fill="#c3bf9b"/>
<rect x="70.36" y="436.60" width="11.96" height="68.10" fill="#c3bf9b"/>
<rect x="82.82" y="440.10" width="11.96" height="64.60" fill="#c3bf9b"/>
<rect x="95.28" y="474.10" width="11.96" height="30.60" fill="#c3bf9b"/>
<rect x="107.74" y="494.40" width="11.96" height="10.30" fill="#c3bf9b"/>
<rect x="120.19" y="489.10" width="11.96" height="15.60" fill="#c3bf9b"/>
<rect x="132.65" y="494.80" width="11.96" height="9.90" fill="#c3bf9b"/>
<rect x="145.11" y="500.90" width="11.96" height="3.80" fill="#c3bf9b"/>
<rect x="157.56" y="499.60" width="11.96" height="5.10" fill="#c3bf9b"/>
<rect x="170.02" y="501.30" width="11.96" height="3.40" fill="#c3bf9b"/>
<rect x="182.48" y="503.40" width="11.96" height="1.30" fill="#c3bf9b"/>
<rect x="194.93" y="503.70" width="11.96" height="1.00" fill="#c3bf9b"/>
<rect x="207.39" y="504.20" width="11.96" height="0.50" fill="#c3bf9b"/>
<rect x="219.85" y="504.20" width="11.96" height="0.50" fill="#c3bf9b"/>
<rect x="232.31" y="503.20" width="12.39" height="1.50" fill="#c3bf9b"/>
<rect x="45.90" y="504.20" width="199.10" height="1.1" fill="#6a6a6a"/>
<text transform="translate(53.73,509.10) rotate(-90)" font-size="8.3" text-anchor="end" fill="#231f20" style="stroke-width:0.12px" textLength="16.8" lengthAdjust="spacingAndGlyphs">≤ 20</text>
<text transform="translate(66.19,509.10) rotate(-90)" font-size="8.3" text-anchor="end" fill="#231f20" style="stroke-width:0.12px" textLength="26.8" lengthAdjust="spacingAndGlyphs">(20, 30]</text>
<text transform="translate(78.64,509.10) rotate(-90)" font-size="8.3" text-anchor="end" fill="#231f20" style="stroke-width:0.12px" textLength="26.8" lengthAdjust="spacingAndGlyphs">(30, 40]</text>
<text transform="translate(91.10,509.10) rotate(-90)" font-size="8.3" text-anchor="end" fill="#231f20" style="stroke-width:0.12px" textLength="26.8" lengthAdjust="spacingAndGlyphs">(40, 50]</text>
<text transform="translate(103.56,509.10) rotate(-90)" font-size="8.3" text-anchor="end" fill="#231f20" style="stroke-width:0.12px" textLength="26.8" lengthAdjust="spacingAndGlyphs">(50, 60]</text>
<text transform="translate(116.01,509.10) rotate(-90)" font-size="8.3" text-anchor="end" fill="#231f20" style="stroke-width:0.12px" textLength="26.8" lengthAdjust="spacingAndGlyphs">(60, 70]</text>
<text transform="translate(128.47,509.10) rotate(-90)" font-size="8.3" text-anchor="end" fill="#231f20" style="stroke-width:0.12px" textLength="26.8" lengthAdjust="spacingAndGlyphs">(70, 80]</text>
<text transform="translate(140.93,509.10) rotate(-90)" font-size="8.3" text-anchor="end" fill="#231f20" style="stroke-width:0.12px" textLength="26.8" lengthAdjust="spacingAndGlyphs">(80, 90]</text>
<text transform="translate(153.38,509.10) rotate(-90)" font-size="8.3" text-anchor="end" fill="#231f20" style="stroke-width:0.12px" textLength="33.2" lengthAdjust="spacingAndGlyphs">(90, 100]</text>
<text transform="translate(165.84,509.10) rotate(-90)" font-size="8.3" text-anchor="end" fill="#231f20" style="stroke-width:0.12px" textLength="37.1" lengthAdjust="spacingAndGlyphs">(100, 110]</text>
<text transform="translate(178.30,509.10) rotate(-90)" font-size="8.3" text-anchor="end" fill="#231f20" style="stroke-width:0.12px" textLength="37.1" lengthAdjust="spacingAndGlyphs">(110, 120]</text>
<text transform="translate(190.76,509.10) rotate(-90)" font-size="8.3" text-anchor="end" fill="#231f20" style="stroke-width:0.12px" textLength="37.1" lengthAdjust="spacingAndGlyphs">(120, 130]</text>
<text transform="translate(203.21,509.10) rotate(-90)" font-size="8.3" text-anchor="end" fill="#231f20" style="stroke-width:0.12px" textLength="37.1" lengthAdjust="spacingAndGlyphs">(130, 140]</text>
<text transform="translate(215.67,509.10) rotate(-90)" font-size="8.3" text-anchor="end" fill="#231f20" style="stroke-width:0.12px" textLength="37.1" lengthAdjust="spacingAndGlyphs">(140, 150]</text>
<text transform="translate(228.13,509.10) rotate(-90)" font-size="8.3" text-anchor="end" fill="#231f20" style="stroke-width:0.12px" textLength="37.1" lengthAdjust="spacingAndGlyphs">(150, 160]</text>
<text transform="translate(240.58,509.10) rotate(-90)" font-size="8.3" text-anchor="end" fill="#231f20" style="stroke-width:0.12px" textLength="20.9" lengthAdjust="spacingAndGlyphs">> 160</text>
<text x="62.9" y="556.0" font-size="8.9" text-anchor="start" font-weight="normal" fill="#231f20" textLength="169.3" lengthAdjust="spacingAndGlyphs">Number of Business Days to Determination</text>
<text x="267.7" y="392.9" font-size="8.9" text-anchor="start" font-weight="normal" fill="#231f20" textLength="79.1" lengthAdjust="spacing">Number of Payment</text>
<text x="267.7" y="402.09999999999997" font-size="8.9" text-anchor="start" font-weight="normal" fill="#231f20" textLength="61.1" lengthAdjust="spacing">Determinations</text>
<text x="388.6" y="404.4" font-size="11.0" text-anchor="start" font-weight="normal" fill="#231f20" textLength="13.7" lengthAdjust="spacingAndGlyphs">Q2</text>
<text x="296.5" y="507.59999999999997" font-size="8.9" text-anchor="end" font-weight="normal" fill="#231f20">0</text>
<rect x="300.90" y="485.72" width="199.00" height="0.8" fill="#efefef"/>
<text x="296.5" y="489.11999999999995" font-size="8.9" text-anchor="end" font-weight="normal" fill="#231f20">200</text>
<rect x="300.90" y="467.24" width="199.00" height="0.8" fill="#efefef"/>
<text x="296.5" y="470.64" font-size="8.9" text-anchor="end" font-weight="normal" fill="#231f20">400</text>
<rect x="300.90" y="448.76" width="199.00" height="0.8" fill="#efefef"/>
<text x="296.5" y="452.15999999999997" font-size="8.9" text-anchor="end" font-weight="normal" fill="#231f20">600</text>
<rect x="300.90" y="430.28" width="199.00" height="0.8" fill="#efefef"/>
<text x="296.5" y="433.67999999999995" font-size="8.9" text-anchor="end" font-weight="normal" fill="#231f20">800</text>
<rect x="300.90" y="411.80" width="199.00" height="0.8" fill="#efefef"/>
<text x="296.5" y="415.2" font-size="8.9" text-anchor="end" font-weight="normal" fill="#231f20">1,000</text>
<rect x="300.90" y="493.30" width="11.41" height="11.40" fill="#c3bf9b"/>
<rect x="312.81" y="434.70" width="11.96" height="70.00" fill="#c3bf9b"/>
<rect x="325.26" y="436.10" width="11.96" height="68.60" fill="#c3bf9b"/>
<rect x="337.72" y="478.90" width="11.96" height="25.80" fill="#c3bf9b"/>
<rect x="350.18" y="490.90" width="11.96" height="13.80" fill="#c3bf9b"/>
<rect x="362.64" y="490.80" width="11.96" height="13.90" fill="#c3bf9b"/>
<rect x="375.09" y="492.20" width="11.96" height="12.50" fill="#c3bf9b"/>
<rect x="387.55" y="494.80" width="11.96" height="9.90" fill="#c3bf9b"/>
<rect x="400.01" y="493.20" width="11.96" height="11.50" fill="#c3bf9b"/>
<rect x="412.46" y="490.70" width="11.96" height="14.00" fill="#c3bf9b"/>
<rect x="424.92" y="493.90" width="11.96" height="10.80" fill="#c3bf9b"/>
<rect x="437.38" y="496.20" width="11.96" height="8.50" fill="#c3bf9b"/>
<rect x="449.83" y="497.80" width="11.96" height="6.90" fill="#c3bf9b"/>
<rect x="462.29" y="497.00" width="11.96" height="7.70" fill="#c3bf9b"/>
<rect x="474.75" y="499.30" width="11.96" height="5.40" fill="#c3bf9b"/>
<rect x="487.21" y="491.80" width="12.39" height="12.90" fill="#c3bf9b"/>
<rect x="300.90" y="504.20" width="199.00" height="1.1" fill="#6a6a6a"/>
<text transform="translate(308.63,509.10) rotate(-90)" font-size="8.3" text-anchor="end" fill="#231f20" style="stroke-width:0.12px" textLength="16.8" lengthAdjust="spacingAndGlyphs">≤ 20</text>
<text transform="translate(321.09,509.10) rotate(-90)" font-size="8.3" text-anchor="end" fill="#231f20" style="stroke-width:0.12px" textLength="26.8" lengthAdjust="spacingAndGlyphs">(20, 30]</text>
<text transform="translate(333.54,509.10) rotate(-90)" font-size="8.3" text-anchor="end" fill="#231f20" style="stroke-width:0.12px" textLength="26.8" lengthAdjust="spacingAndGlyphs">(30, 40]</text>
<text transform="translate(346.00,509.10) rotate(-90)" font-size="8.3" text-anchor="end" fill="#231f20" style="stroke-width:0.12px" textLength="26.8" lengthAdjust="spacingAndGlyphs">(40, 50]</text>
<text transform="translate(358.46,509.10) rotate(-90)" font-size="8.3" text-anchor="end" fill="#231f20" style="stroke-width:0.12px" textLength="26.8" lengthAdjust="spacingAndGlyphs">(50, 60]</text>
<text transform="translate(370.91,509.10) rotate(-90)" font-size="8.3" text-anchor="end" fill="#231f20" style="stroke-width:0.12px" textLength="26.8" lengthAdjust="spacingAndGlyphs">(60, 70]</text>
<text transform="translate(383.37,509.10) rotate(-90)" font-size="8.3" text-anchor="end" fill="#231f20" style="stroke-width:0.12px" textLength="26.8" lengthAdjust="spacingAndGlyphs">(70, 80]</text>
<text transform="translate(395.83,509.10) rotate(-90)" font-size="8.3" text-anchor="end" fill="#231f20" style="stroke-width:0.12px" textLength="26.8" lengthAdjust="spacingAndGlyphs">(80, 90]</text>
<text transform="translate(408.28,509.10) rotate(-90)" font-size="8.3" text-anchor="end" fill="#231f20" style="stroke-width:0.12px" textLength="33.2" lengthAdjust="spacingAndGlyphs">(90, 100]</text>
<text transform="translate(420.74,509.10) rotate(-90)" font-size="8.3" text-anchor="end" fill="#231f20" style="stroke-width:0.12px" textLength="37.1" lengthAdjust="spacingAndGlyphs">(100, 110]</text>
<text transform="translate(433.20,509.10) rotate(-90)" font-size="8.3" text-anchor="end" fill="#231f20" style="stroke-width:0.12px" textLength="37.1" lengthAdjust="spacingAndGlyphs">(110, 120]</text>
<text transform="translate(445.66,509.10) rotate(-90)" font-size="8.3" text-anchor="end" fill="#231f20" style="stroke-width:0.12px" textLength="37.1" lengthAdjust="spacingAndGlyphs">(120, 130]</text>
<text transform="translate(458.11,509.10) rotate(-90)" font-size="8.3" text-anchor="end" fill="#231f20" style="stroke-width:0.12px" textLength="37.1" lengthAdjust="spacingAndGlyphs">(130, 140]</text>
<text transform="translate(470.57,509.10) rotate(-90)" font-size="8.3" text-anchor="end" fill="#231f20" style="stroke-width:0.12px" textLength="37.1" lengthAdjust="spacingAndGlyphs">(140, 150]</text>
<text transform="translate(483.03,509.10) rotate(-90)" font-size="8.3" text-anchor="end" fill="#231f20" style="stroke-width:0.12px" textLength="37.1" lengthAdjust="spacingAndGlyphs">(150, 160]</text>
<text transform="translate(495.48,509.10) rotate(-90)" font-size="8.3" text-anchor="end" fill="#231f20" style="stroke-width:0.12px" textLength="20.9" lengthAdjust="spacingAndGlyphs">> 160</text>
<text x="317.9" y="556.0" font-size="8.9" text-anchor="start" font-weight="normal" fill="#231f20" textLength="169.3" lengthAdjust="spacingAndGlyphs">Number of Business Days to Determination</text>
<rect x="8.3" y="561.9" width="496.0" height="1.0" fill="#d9d9d9"/>
<text x="11.4" y="573.1" font-size="8.9" text-anchor="start" font-weight="normal" fill="#231f20" textLength="79.1" lengthAdjust="spacing">Number of Payment</text>
<text x="11.4" y="582.3000000000001" font-size="8.9" text-anchor="start" font-weight="normal" fill="#231f20" textLength="61.1" lengthAdjust="spacing">Determinations</text>
<text x="135.9" y="584.4" font-size="11.0" text-anchor="start" font-weight="normal" fill="#231f20" textLength="13.8" lengthAdjust="spacingAndGlyphs">Q3</text>
<text x="41.5" y="688.1999999999999" font-size="8.9" text-anchor="end" font-weight="normal" fill="#231f20">0</text>
<rect x="45.90" y="666.20" width="199.10" height="0.8" fill="#efefef"/>
<text x="41.5" y="669.5999999999999" font-size="8.9" text-anchor="end" font-weight="normal" fill="#231f20">200</text>
<rect x="45.90" y="647.60" width="199.10" height="0.8" fill="#efefef"/>
<text x="41.5" y="650.9999999999999" font-size="8.9" text-anchor="end" font-weight="normal" fill="#231f20">400</text>
<rect x="45.90" y="629.00" width="199.10" height="0.8" fill="#efefef"/>
<text x="41.5" y="632.4" font-size="8.9" text-anchor="end" font-weight="normal" fill="#231f20">600</text>
<rect x="45.90" y="610.40" width="199.10" height="0.8" fill="#efefef"/>
<text x="41.5" y="613.8" font-size="8.9" text-anchor="end" font-weight="normal" fill="#231f20">800</text>
<rect x="45.90" y="591.80" width="199.10" height="0.8" fill="#efefef"/>
<text x="41.5" y="595.1999999999999" font-size="8.9" text-anchor="end" font-weight="normal" fill="#231f20">1,000</text>
<rect x="45.90" y="666.30" width="11.51" height="19.00" fill="#c3bf9b"/>
<rect x="57.91" y="653.90" width="11.96" height="31.40" fill="#c3bf9b"/>
<rect x="70.36" y="662.30" width="11.96" height="23.00" fill="#c3bf9b"/>
<rect x="82.82" y="655.00" width="11.96" height="30.30" fill="#c3bf9b"/>
<rect x="95.28" y="663.20" width="11.96" height="22.10" fill="#c3bf9b"/>
<rect x="107.74" y="667.90" width="11.96" height="17.40" fill="#c3bf9b"/>
<rect x="120.19" y="670.20" width="11.96" height="15.10" fill="#c3bf9b"/>
<rect x="132.65" y="673.20" width="11.96" height="12.10" fill="#c3bf9b"/>
<rect x="145.11" y="676.00" width="11.96" height="9.30" fill="#c3bf9b"/>
<rect x="157.56" y="672.10" width="11.96" height="13.20" fill="#c3bf9b"/>
<rect x="170.02" y="673.60" width="11.96" height="11.70" fill="#c3bf9b"/>
<rect x="182.48" y="672.50" width="11.96" height="12.80" fill="#c3bf9b"/>
<rect x="194.93" y="671.00" width="11.96" height="14.30" fill="#c3bf9b"/>
<rect x="207.39" y="673.60" width="11.96" height="11.70" fill="#c3bf9b"/>
<rect x="219.85" y="668.20" width="11.96" height="17.10" fill="#c3bf9b"/>
<rect x="232.31" y="641.30" width="12.39" height="44.00" fill="#c3bf9b"/>
<rect x="45.90" y="684.80" width="199.10" height="1.1" fill="#6a6a6a"/>
<text transform="translate(53.73,689.50) rotate(-90)" font-size="8.3" text-anchor="end" fill="#231f20" style="stroke-width:0.12px" textLength="16.8" lengthAdjust="spacingAndGlyphs">≤ 20</text>
<text transform="translate(66.19,689.50) rotate(-90)" font-size="8.3" text-anchor="end" fill="#231f20" style="stroke-width:0.12px" textLength="26.8" lengthAdjust="spacingAndGlyphs">(20, 30]</text>
<text transform="translate(78.64,689.50) rotate(-90)" font-size="8.3" text-anchor="end" fill="#231f20" style="stroke-width:0.12px" textLength="26.8" lengthAdjust="spacingAndGlyphs">(30, 40]</text>
<text transform="translate(91.10,689.50) rotate(-90)" font-size="8.3" text-anchor="end" fill="#231f20" style="stroke-width:0.12px" textLength="26.8" lengthAdjust="spacingAndGlyphs">(40, 50]</text>
<text transform="translate(103.56,689.50) rotate(-90)" font-size="8.3" text-anchor="end" fill="#231f20" style="stroke-width:0.12px" textLength="26.8" lengthAdjust="spacingAndGlyphs">(50, 60]</text>
<text transform="translate(116.01,689.50) rotate(-90)" font-size="8.3" text-anchor="end" fill="#231f20" style="stroke-width:0.12px" textLength="26.8" lengthAdjust="spacingAndGlyphs">(60, 70]</text>
<text transform="translate(128.47,689.50) rotate(-90)" font-size="8.3" text-anchor="end" fill="#231f20" style="stroke-width:0.12px" textLength="26.8" lengthAdjust="spacingAndGlyphs">(70, 80]</text>
<text transform="translate(140.93,689.50) rotate(-90)" font-size="8.3" text-anchor="end" fill="#231f20" style="stroke-width:0.12px" textLength="26.8" lengthAdjust="spacingAndGlyphs">(80, 90]</text>
<text transform="translate(153.38,689.50) rotate(-90)" font-size="8.3" text-anchor="end" fill="#231f20" style="stroke-width:0.12px" textLength="33.2" lengthAdjust="spacingAndGlyphs">(90, 100]</text>
<text transform="translate(165.84,689.50) rotate(-90)" font-size="8.3" text-anchor="end" fill="#231f20" style="stroke-width:0.12px" textLength="37.1" lengthAdjust="spacingAndGlyphs">(100, 110]</text>
<text transform="translate(178.30,689.50) rotate(-90)" font-size="8.3" text-anchor="end" fill="#231f20" style="stroke-width:0.12px" textLength="37.1" lengthAdjust="spacingAndGlyphs">(110, 120]</text>
<text transform="translate(190.76,689.50) rotate(-90)" font-size="8.3" text-anchor="end" fill="#231f20" style="stroke-width:0.12px" textLength="37.1" lengthAdjust="spacingAndGlyphs">(120, 130]</text>
<text transform="translate(203.21,689.50) rotate(-90)" font-size="8.3" text-anchor="end" fill="#231f20" style="stroke-width:0.12px" textLength="37.1" lengthAdjust="spacingAndGlyphs">(130, 140]</text>
<text transform="translate(215.67,689.50) rotate(-90)" font-size="8.3" text-anchor="end" fill="#231f20" style="stroke-width:0.12px" textLength="37.1" lengthAdjust="spacingAndGlyphs">(140, 150]</text>
<text transform="translate(228.13,689.50) rotate(-90)" font-size="8.3" text-anchor="end" fill="#231f20" style="stroke-width:0.12px" textLength="37.1" lengthAdjust="spacingAndGlyphs">(150, 160]</text>
<text transform="translate(240.58,689.50) rotate(-90)" font-size="8.3" text-anchor="end" fill="#231f20" style="stroke-width:0.12px" textLength="20.9" lengthAdjust="spacingAndGlyphs">> 160</text>
<text x="62.9" y="736.5" font-size="8.9" text-anchor="start" font-weight="normal" fill="#231f20" textLength="169.3" lengthAdjust="spacingAndGlyphs">Number of Business Days to Determination</text>
<text x="267.7" y="573.1" font-size="8.9" text-anchor="start" font-weight="normal" fill="#231f20" textLength="79.1" lengthAdjust="spacing">Number of Payment</text>
<text x="267.7" y="582.3000000000001" font-size="8.9" text-anchor="start" font-weight="normal" fill="#231f20" textLength="61.1" lengthAdjust="spacing">Determinations</text>
<text x="388.6" y="584.4" font-size="11.0" text-anchor="start" font-weight="normal" fill="#231f20" textLength="13.9" lengthAdjust="spacingAndGlyphs">Q4</text>
<text x="296.5" y="688.1999999999999" font-size="8.9" text-anchor="end" font-weight="normal" fill="#231f20">0</text>
<rect x="300.90" y="666.20" width="199.00" height="0.8" fill="#efefef"/>
<text x="296.5" y="669.5999999999999" font-size="8.9" text-anchor="end" font-weight="normal" fill="#231f20">200</text>
<rect x="300.90" y="647.60" width="199.00" height="0.8" fill="#efefef"/>
<text x="296.5" y="650.9999999999999" font-size="8.9" text-anchor="end" font-weight="normal" fill="#231f20">400</text>
<rect x="300.90" y="629.00" width="199.00" height="0.8" fill="#efefef"/>
<text x="296.5" y="632.4" font-size="8.9" text-anchor="end" font-weight="normal" fill="#231f20">600</text>
<rect x="300.90" y="610.40" width="199.00" height="0.8" fill="#efefef"/>
<text x="296.5" y="613.8" font-size="8.9" text-anchor="end" font-weight="normal" fill="#231f20">800</text>
<rect x="300.90" y="591.80" width="199.00" height="0.8" fill="#efefef"/>
<text x="296.5" y="595.1999999999999" font-size="8.9" text-anchor="end" font-weight="normal" fill="#231f20">1,000</text>
<rect x="300.90" y="681.00" width="11.41" height="4.30" fill="#c3bf9b"/>
<rect x="337.72" y="681.00" width="11.96" height="4.30" fill="#c3bf9b"/>
<rect x="350.18" y="679.60" width="11.96" height="5.70" fill="#c3bf9b"/>
<rect x="362.64" y="670.10" width="11.96" height="15.20" fill="#c3bf9b"/>
<rect x="375.09" y="669.00" width="11.96" height="16.30" fill="#c3bf9b"/>
<rect x="387.55" y="671.80" width="11.96" height="13.50" fill="#c3bf9b"/>
<rect x="400.01" y="668.20" width="11.96" height="17.10" fill="#c3bf9b"/>
<rect x="412.46" y="668.20" width="11.96" height="17.10" fill="#c3bf9b"/>
<rect x="424.92" y="675.50" width="11.96" height="9.80" fill="#c3bf9b"/>
<rect x="437.38" y="674.30" width="11.96" height="11.00" fill="#c3bf9b"/>
<rect x="449.83" y="673.80" width="11.96" height="11.50" fill="#c3bf9b"/>
<rect x="462.29" y="677.00" width="11.96" height="8.30" fill="#c3bf9b"/>
<rect x="474.75" y="673.90" width="11.96" height="11.40" fill="#c3bf9b"/>
<rect x="487.21" y="608.10" width="12.39" height="77.20" fill="#c3bf9b"/>
<rect x="300.90" y="684.80" width="199.00" height="1.1" fill="#6a6a6a"/>
<text transform="translate(308.63,689.50) rotate(-90)" font-size="8.3" text-anchor="end" fill="#231f20" style="stroke-width:0.12px" textLength="16.8" lengthAdjust="spacingAndGlyphs">≤ 20</text>
<text transform="translate(321.09,689.50) rotate(-90)" font-size="8.3" text-anchor="end" fill="#231f20" style="stroke-width:0.12px" textLength="26.8" lengthAdjust="spacingAndGlyphs">(20, 30]</text>
<text transform="translate(333.54,689.50) rotate(-90)" font-size="8.3" text-anchor="end" fill="#231f20" style="stroke-width:0.12px" textLength="26.8" lengthAdjust="spacingAndGlyphs">(30, 40]</text>
<text transform="translate(346.00,689.50) rotate(-90)" font-size="8.3" text-anchor="end" fill="#231f20" style="stroke-width:0.12px" textLength="26.8" lengthAdjust="spacingAndGlyphs">(40, 50]</text>
<text transform="translate(358.46,689.50) rotate(-90)" font-size="8.3" text-anchor="end" fill="#231f20" style="stroke-width:0.12px" textLength="26.8" lengthAdjust="spacingAndGlyphs">(50, 60]</text>
<text transform="translate(370.91,689.50) rotate(-90)" font-size="8.3" text-anchor="end" fill="#231f20" style="stroke-width:0.12px" textLength="26.8" lengthAdjust="spacingAndGlyphs">(60, 70]</text>
<text transform="translate(383.37,689.50) rotate(-90)" font-size="8.3" text-anchor="end" fill="#231f20" style="stroke-width:0.12px" textLength="26.8" lengthAdjust="spacingAndGlyphs">(70, 80]</text>
<text transform="translate(395.83,689.50) rotate(-90)" font-size="8.3" text-anchor="end" fill="#231f20" style="stroke-width:0.12px" textLength="26.8" lengthAdjust="spacingAndGlyphs">(80, 90]</text>
<text transform="translate(408.28,689.50) rotate(-90)" font-size="8.3" text-anchor="end" fill="#231f20" style="stroke-width:0.12px" textLength="33.2" lengthAdjust="spacingAndGlyphs">(90, 100]</text>
<text transform="translate(420.74,689.50) rotate(-90)" font-size="8.3" text-anchor="end" fill="#231f20" style="stroke-width:0.12px" textLength="37.1" lengthAdjust="spacingAndGlyphs">(100, 110]</text>
<text transform="translate(433.20,689.50) rotate(-90)" font-size="8.3" text-anchor="end" fill="#231f20" style="stroke-width:0.12px" textLength="37.1" lengthAdjust="spacingAndGlyphs">(110, 120]</text>
<text transform="translate(445.66,689.50) rotate(-90)" font-size="8.3" text-anchor="end" fill="#231f20" style="stroke-width:0.12px" textLength="37.1" lengthAdjust="spacingAndGlyphs">(120, 130]</text>
<text transform="translate(458.11,689.50) rotate(-90)" font-size="8.3" text-anchor="end" fill="#231f20" style="stroke-width:0.12px" textLength="37.1" lengthAdjust="spacingAndGlyphs">(130, 140]</text>
<text transform="translate(470.57,689.50) rotate(-90)" font-size="8.3" text-anchor="end" fill="#231f20" style="stroke-width:0.12px" textLength="37.1" lengthAdjust="spacingAndGlyphs">(140, 150]</text>
<text transform="translate(483.03,689.50) rotate(-90)" font-size="8.3" text-anchor="end" fill="#231f20" style="stroke-width:0.12px" textLength="37.1" lengthAdjust="spacingAndGlyphs">(150, 160]</text>
<text transform="translate(495.48,689.50) rotate(-90)" font-size="8.3" text-anchor="end" fill="#231f20" style="stroke-width:0.12px" textLength="20.9" lengthAdjust="spacingAndGlyphs">> 160</text>
<text x="317.9" y="736.5" font-size="8.9" text-anchor="start" font-weight="normal" fill="#231f20" textLength="169.3" lengthAdjust="spacingAndGlyphs">Number of Business Days to Determination</text>
</svg>
</body></html>
